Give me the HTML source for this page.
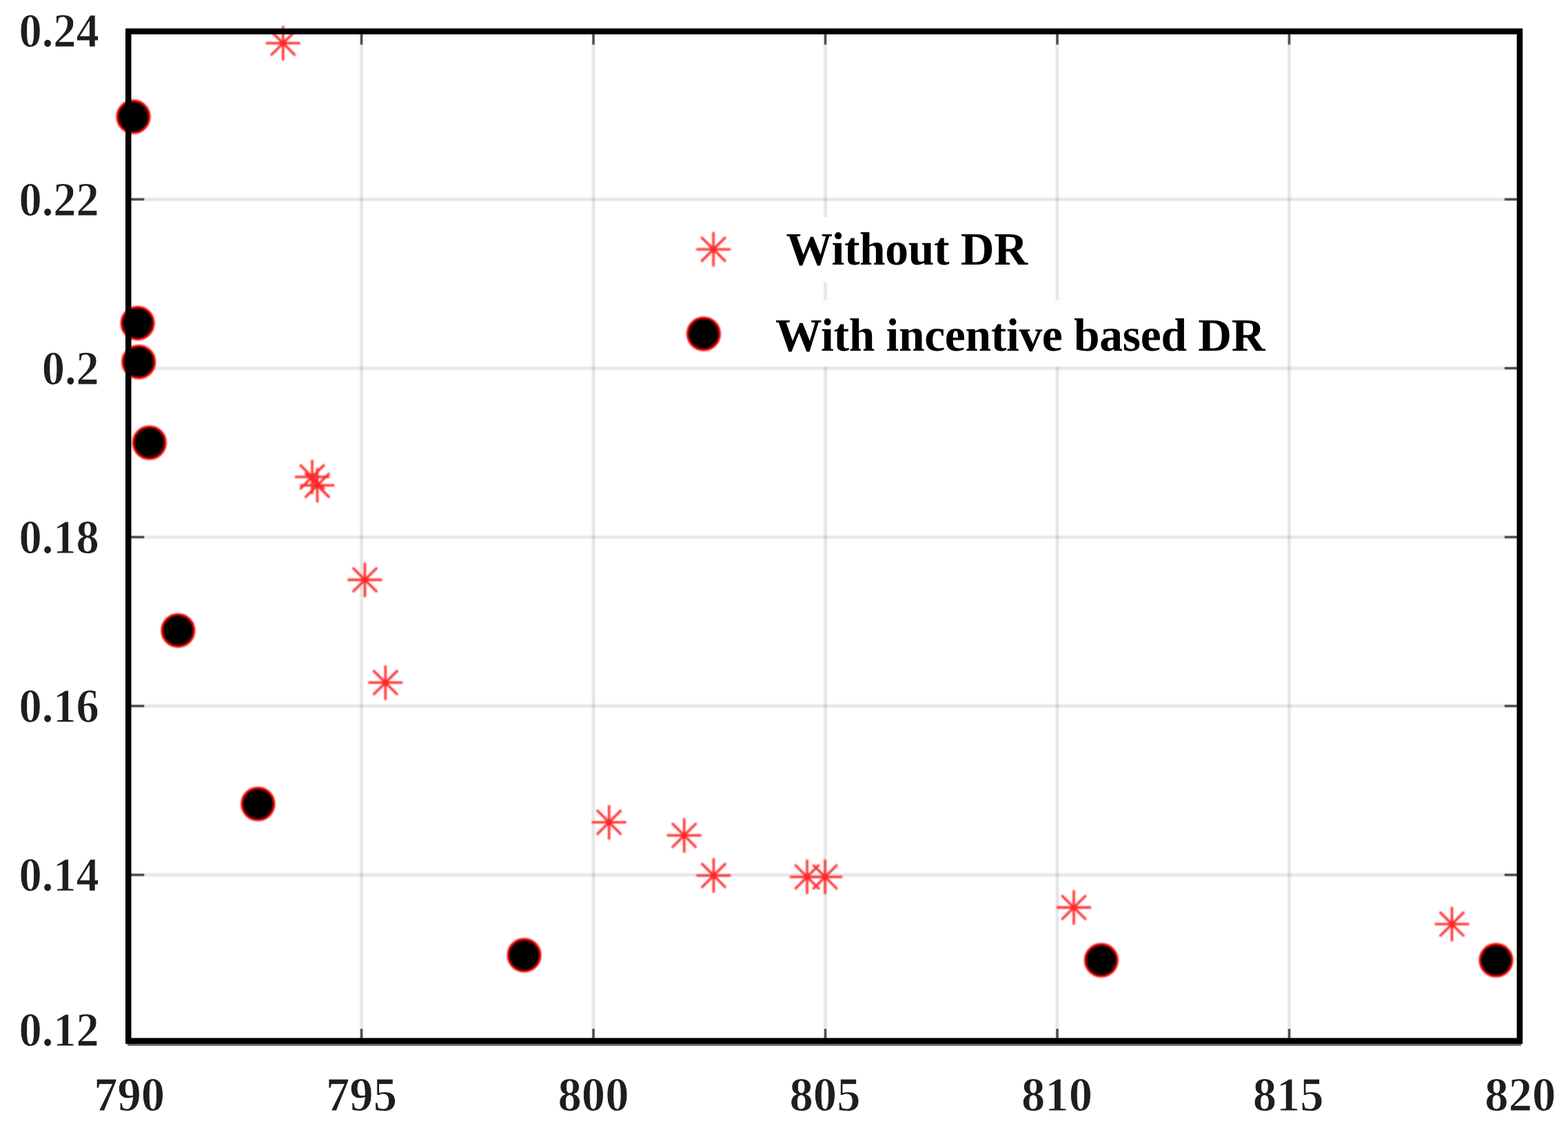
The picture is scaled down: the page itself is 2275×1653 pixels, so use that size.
<!DOCTYPE html>
<html lang="en"><head><meta charset="utf-8"><title>Scatter plot: Without DR vs With incentive based DR</title>
<style>html,body{margin:0;padding:0;background:#fff}body{width:2275px;height:1653px;overflow:hidden}svg{display:block}text{font-family:"Liberation Serif","DejaVu Serif",serif;font-weight:bold}.tk{fill:#1e1e1e;stroke:#fff;stroke-width:0.9px;paint-order:fill stroke}.lg{fill:#000}</style></head><body>
<svg width="2275" height="1653" viewBox="0 0 2275 1653">
<defs><filter id="soft" x="-5%" y="-5%" width="110%" height="110%"><feGaussianBlur stdDeviation="1"/></filter><filter id="softg" x="-2%" y="-2%" width="104%" height="104%"><feGaussianBlur stdDeviation="0.9"/></filter></defs>
<rect width="2275" height="1653" fill="#fff"/>
<g stroke="#000" stroke-opacity="0.115" stroke-width="4.2" fill="none" filter="url(#softg)">
<line x1="524.5" y1="46.3" x2="524.5" y2="1509.9"/>
<line x1="861.0" y1="46.3" x2="861.0" y2="1509.9"/>
<line x1="1197.5" y1="46.3" x2="1197.5" y2="1509.9"/>
<line x1="1534.0" y1="46.3" x2="1534.0" y2="1509.9"/>
<line x1="1870.5" y1="46.3" x2="1870.5" y2="1509.9"/>
<line x1="187.0" y1="1269.7" x2="2204.2" y2="1269.7"/>
<line x1="187.0" y1="1024.6" x2="2204.2" y2="1024.6"/>
<line x1="187.0" y1="779.5" x2="2204.2" y2="779.5"/>
<line x1="187.0" y1="534.4" x2="2204.2" y2="534.4"/>
<line x1="187.0" y1="289.3" x2="2204.2" y2="289.3"/>
</g>
<rect x="1100" y="315" width="400" height="94.3" fill="#fff"/>
<rect x="1100" y="436" width="750" height="96" fill="#fff"/>
<g stroke="#505050" stroke-width="3.6" fill="none">
<line x1="524.5" y1="1493" x2="524.5" y2="1512.9"/>
<line x1="524.5" y1="43.3" x2="524.5" y2="64.7"/>
<line x1="861.0" y1="1493" x2="861.0" y2="1512.9"/>
<line x1="861.0" y1="43.3" x2="861.0" y2="64.7"/>
<line x1="1197.5" y1="1493" x2="1197.5" y2="1512.9"/>
<line x1="1197.5" y1="43.3" x2="1197.5" y2="64.7"/>
<line x1="1534.0" y1="1493" x2="1534.0" y2="1512.9"/>
<line x1="1534.0" y1="43.3" x2="1534.0" y2="64.7"/>
<line x1="1870.5" y1="1493" x2="1870.5" y2="1512.9"/>
<line x1="1870.5" y1="43.3" x2="1870.5" y2="64.7"/>
<line x1="184.0" y1="1269.7" x2="209.3" y2="1269.7"/>
<line x1="2183" y1="1269.7" x2="2207.2" y2="1269.7"/>
<line x1="184.0" y1="1024.6" x2="209.3" y2="1024.6"/>
<line x1="2183" y1="1024.6" x2="2207.2" y2="1024.6"/>
<line x1="184.0" y1="779.5" x2="209.3" y2="779.5"/>
<line x1="2183" y1="779.5" x2="2207.2" y2="779.5"/>
<line x1="184.0" y1="534.4" x2="209.3" y2="534.4"/>
<line x1="2183" y1="534.4" x2="2207.2" y2="534.4"/>
<line x1="184.0" y1="289.3" x2="209.3" y2="289.3"/>
<line x1="2183" y1="289.3" x2="2207.2" y2="289.3"/>
</g>
<rect x="185" y="1513" width="2022" height="4.8" fill="#696969"/>
<g stroke="#ff2828" stroke-width="3.3" fill="none" filter="url(#soft)">
<path d="M385.7 62.7H435.7M410.7 37.7V87.7M393.0 45.0L428.4 80.4M393.0 80.4L428.4 45.0"/>
<path d="M427.9 692.2H477.9M452.9 667.2V717.2M435.2 674.5L470.6 709.9M435.2 709.9L470.6 674.5"/>
<path d="M435.4 704.3H485.4M460.4 679.3V729.3M442.7 686.6L478.1 722.0M442.7 722.0L478.1 686.6"/>
<path d="M504.4 841.5H554.4M529.4 816.5V866.5M511.7 823.8L547.1 859.2M511.7 859.2L547.1 823.8"/>
<path d="M534.2 990.7H584.2M559.2 965.7V1015.7M541.5 973.0L576.9 1008.4M541.5 1008.4L576.9 973.0"/>
<path d="M858.7 1193.4H908.7M883.7 1168.4V1218.4M866.0 1175.7L901.4 1211.1M866.0 1211.1L901.4 1175.7"/>
<path d="M967.7 1212.4H1017.7M992.7 1187.4V1237.4M975.0 1194.7L1010.4 1230.1M975.0 1230.1L1010.4 1194.7"/>
<path d="M1010.4 1270.6H1060.4M1035.4 1245.6V1295.6M1017.7 1252.9L1053.1 1288.3M1017.7 1288.3L1053.1 1252.9"/>
<path d="M1146.0 1272.6H1196.0M1171.0 1247.6V1297.6M1153.3 1254.9L1188.7 1290.3M1153.3 1290.3L1188.7 1254.9"/>
<path d="M1172.1 1272.6H1222.1M1197.1 1247.6V1297.6M1179.4 1254.9L1214.8 1290.3M1179.4 1290.3L1214.8 1254.9"/>
<path d="M1533.0 1317.0H1583.0M1558.0 1292.0V1342.0M1540.3 1299.3L1575.7 1334.7M1540.3 1334.7L1575.7 1299.3"/>
<path d="M2081.6 1341.2H2131.6M2106.6 1316.2V1366.2M2088.9 1323.5L2124.3 1358.9M2088.9 1358.9L2124.3 1323.5"/>
<path d="M1010.1 361.8H1060.1M1035.1 336.8V386.8M1017.4 344.1L1052.8 379.5M1017.4 379.5L1052.8 344.1"/>
</g>
<g fill="#000" stroke="#f00" stroke-width="2.6" filter="url(#soft)">
<circle cx="193.5" cy="169.6" r="23.7"/>
<circle cx="199.6" cy="469.0" r="23.7"/>
<circle cx="201.2" cy="525.2" r="23.7"/>
<circle cx="216.8" cy="642.5" r="23.7"/>
<circle cx="258.3" cy="915.0" r="23.7"/>
<circle cx="374.3" cy="1166.8" r="23.7"/>
<circle cx="760.5" cy="1386.3" r="23.7"/>
<circle cx="1597.8" cy="1393.6" r="23.7"/>
<circle cx="2170.6" cy="1393.6" r="23.7"/>
<circle cx="1020.9" cy="484.5" r="23.7"/>
</g>
<rect x="186.25" y="45.55" width="2018.70" height="1465.10" fill="none" stroke="#000" stroke-width="8.5"/>
<g class="tk" font-size="70.3" text-anchor="end">
<text transform="translate(143.7,67.9) scale(0.945,1)">0.24</text>
<text transform="translate(143.7,313.2) scale(0.945,1)">0.22</text>
<text transform="translate(143.7,558.2) scale(0.945,1)">0.2</text>
<text transform="translate(143.7,803.2) scale(0.945,1)">0.18</text>
<text transform="translate(143.7,1048.2) scale(0.945,1)">0.16</text>
<text transform="translate(143.7,1293.2) scale(0.945,1)">0.14</text>
<text transform="translate(143.7,1518.2) scale(0.945,1)">0.12</text>
</g>
<g class="tk" font-size="69.3" text-anchor="middle">
<text transform="translate(187.6,1611.7) scale(0.99,1)">790</text>
<text transform="translate(524.5,1611.7) scale(0.99,1)">795</text>
<text transform="translate(861,1611.7) scale(0.99,1)">800</text>
<text transform="translate(1197,1611.7) scale(0.99,1)">805</text>
<text transform="translate(1533.5,1611.7) scale(0.99,1)">810</text>
<text transform="translate(1869.2,1611.7) scale(0.99,1)">815</text>
<text transform="translate(2205.8,1611.7) scale(0.99,1)">820</text>
</g>
<g class="lg" font-size="67.5">
<text x="1140.5" y="384" textLength="350.5" lengthAdjust="spacing">Without DR</text>
<text x="1125" y="509" textLength="710.5" lengthAdjust="spacing">With incentive based DR</text>
</g>
</svg></body></html>
